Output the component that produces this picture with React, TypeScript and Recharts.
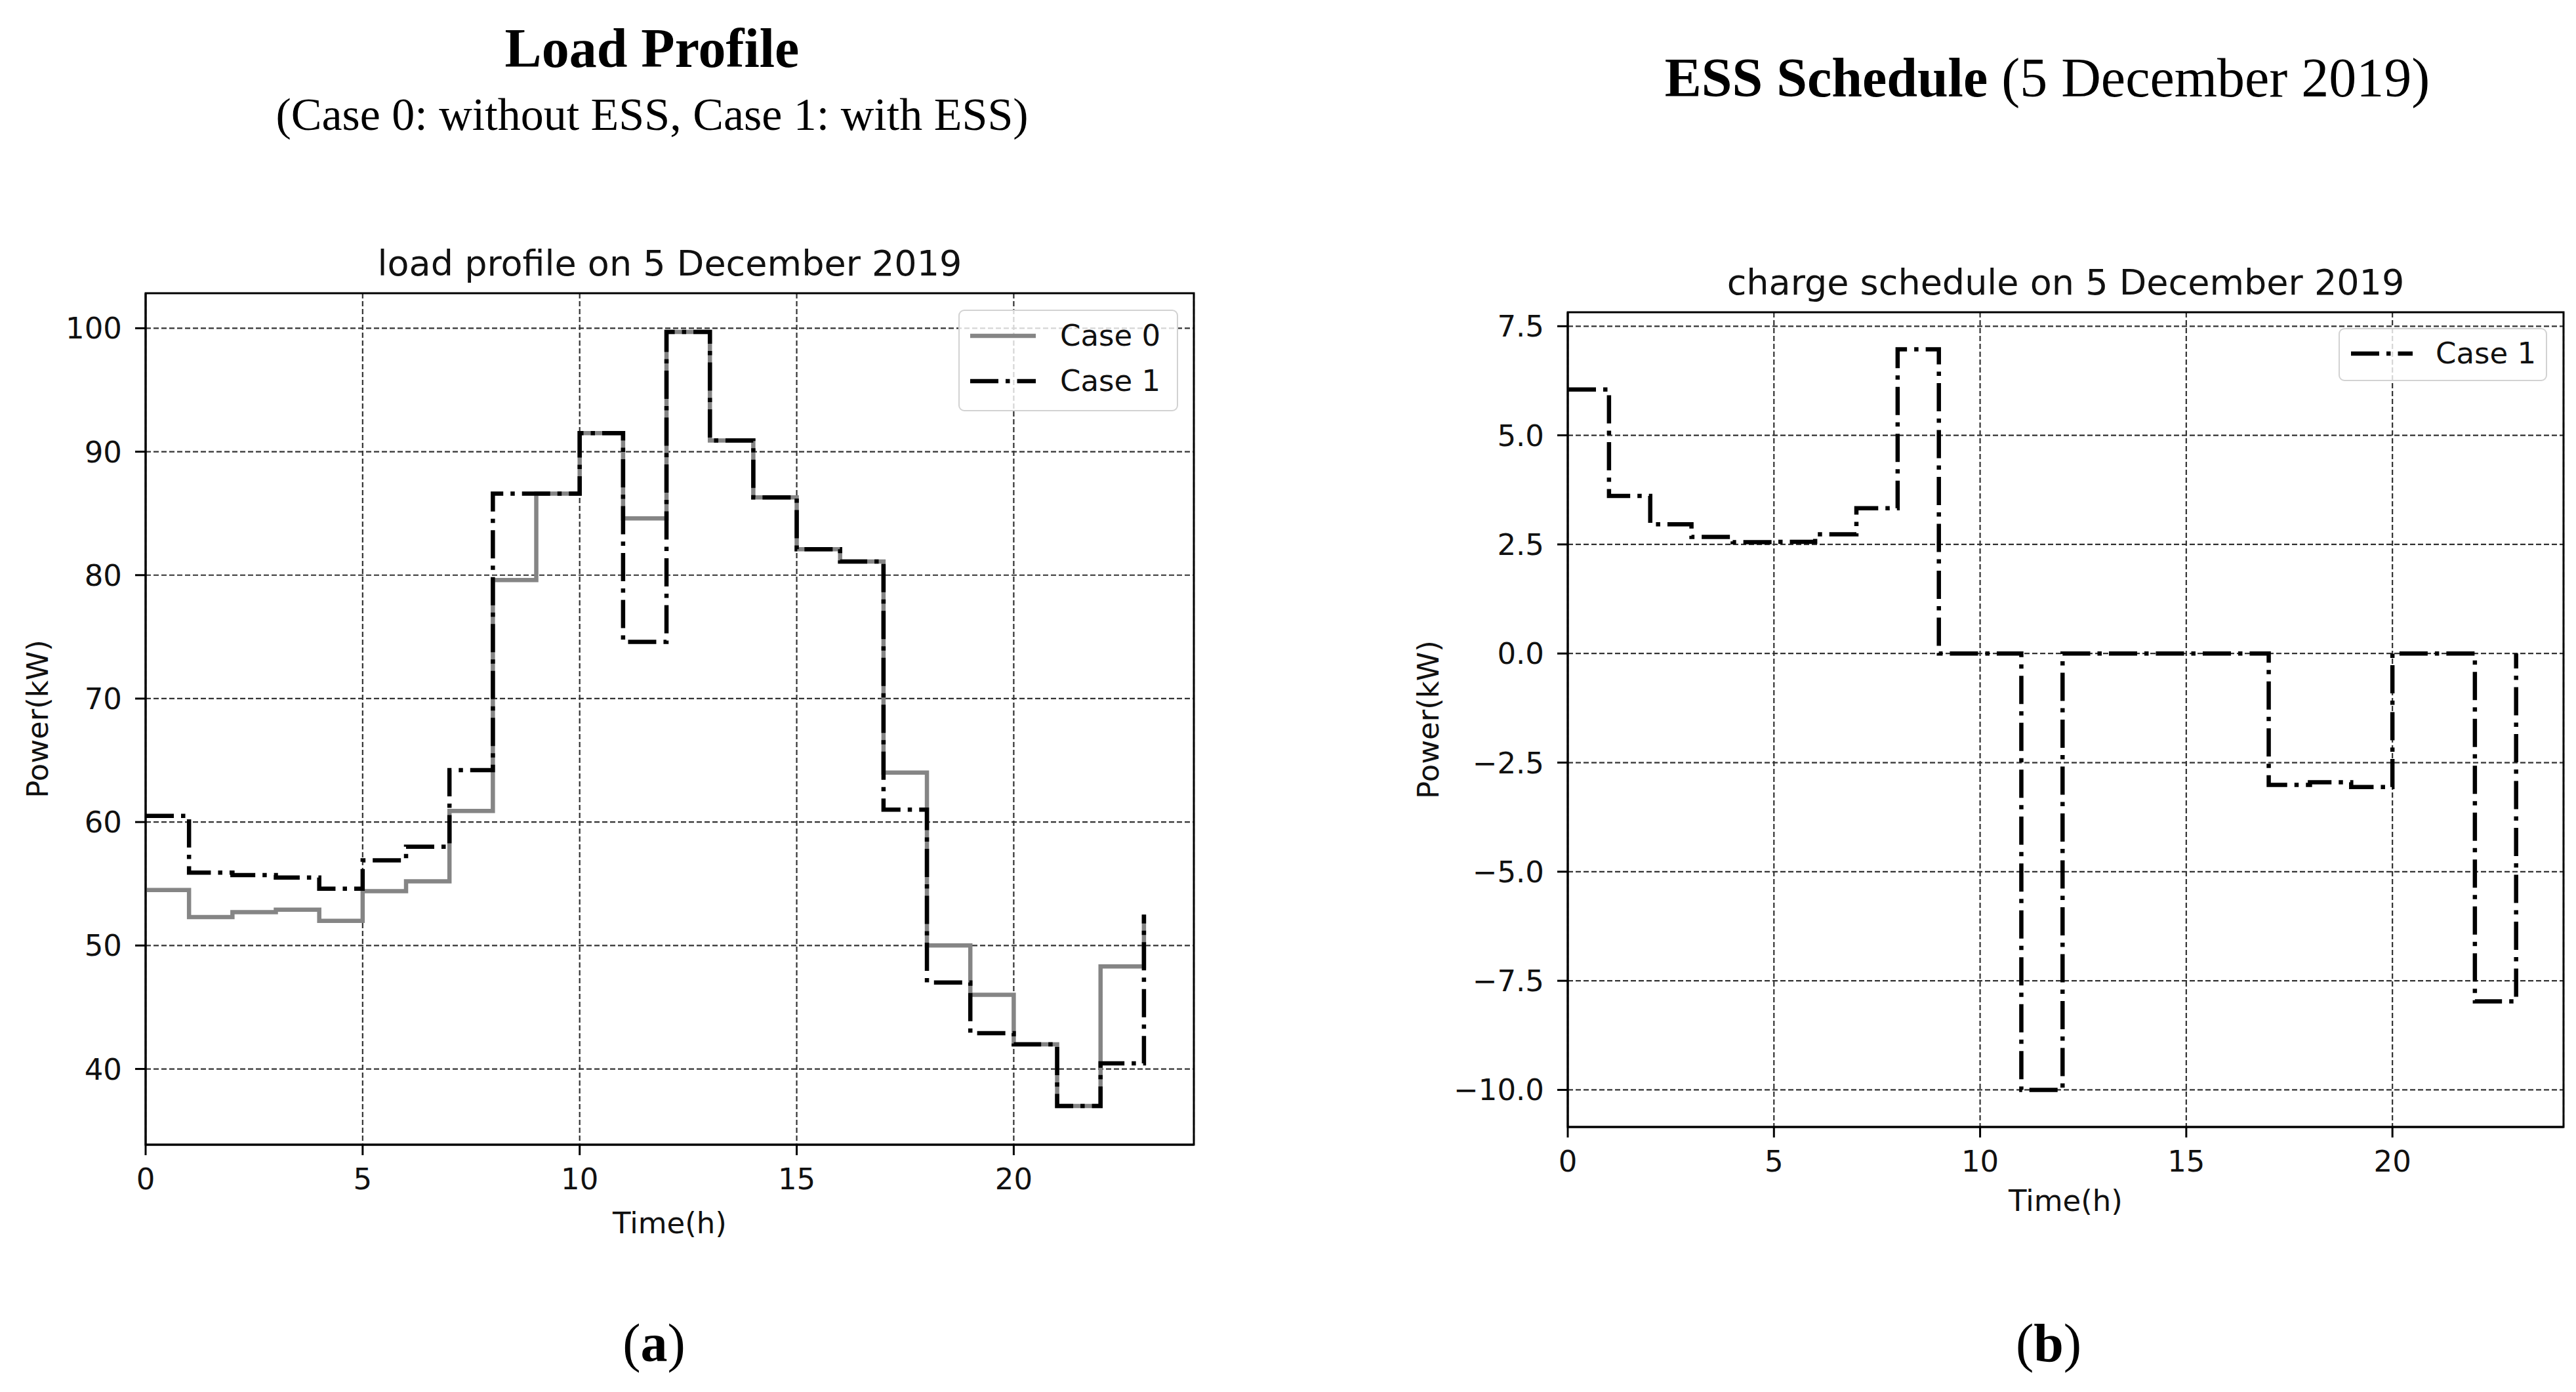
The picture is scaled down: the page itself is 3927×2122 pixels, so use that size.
import React from 'react';
import { LineChart, Line, XAxis, YAxis, CartesianGrid, ReferenceArea, Legend } from 'recharts';

// ---------- data ----------
const hours = [0, 1, 2, 3, 4, 5, 6, 7, 8, 9, 10, 11, 12, 13, 14, 15, 16, 17, 18, 19, 20, 21, 22, 23];
const case0Load = [54.5, 52.3, 52.7, 52.9, 52.0, 54.4, 55.2, 60.9, 79.6, 86.6, 91.5, 84.6, 99.7, 90.9, 86.3, 82.1, 81.1, 64.0, 50.0, 46.0, 42.0, 37.0, 48.3, 52.5];
const case1Load = [60.5, 55.9, 55.7, 55.5, 54.6, 56.9, 58.0, 64.2, 86.6, 86.6, 91.5, 74.6, 99.7, 90.9, 86.3, 82.1, 81.1, 61.0, 47.0, 42.9, 42.0, 37.0, 40.45, 52.5];
const essCharge = [6.05, 3.61, 2.96, 2.67, 2.55, 2.56, 2.73, 3.33, 6.97, 0, 0, -10, 0, 0, 0, 0, 0, -3.01, -2.95, -3.06, 0, 0, -7.97, 0];

const hourTicks = [0, 5, 10, 15, 20];
const loadTicks = [40, 50, 60, 70, 80, 90, 100];
const essTicks = [-10, -7.5, -5, -2.5, 0, 2.5, 5, 7.5];

const hourDomain = [0, 24.15];
const loadDomain = [33.865, 102.835];
const essDomain = [-10.85, 7.82];

const loadData = hours.map((h, i) => ({ hour: h, case0: case0Load[i], case1: case1Load[i] }));
const essData = hours.map((h, i) => ({ hour: h, case1: essCharge[i] }));

// ---------- styles ----------
const SANS = "'DejaVu Sans', sans-serif";
const SERIF = "'Liberation Serif', 'Times New Roman', serif";
const DASHDOT = '43 11 6.5 11';
const LINE_W = 6.5;
const GRAY = '#858585';

const seriesLoad = [
  { key: 'case0', name: 'Case 0', color: GRAY, dash: undefined as string | undefined },
  { key: 'case1', name: 'Case 1', color: '#000', dash: DASHDOT as string | undefined },
];
const seriesEss = [{ key: 'case1', name: 'Case 1', color: '#000', dash: DASHDOT as string | undefined }];

const tickStyle = { fontSize: 45, fontFamily: SANS, fill: '#111' };
const lineStyle = { stroke: '#000', strokeWidth: 3 };

type Series = { key: string; name: string; color: string; dash?: string };

const LegendBox = ({ items, lineLen, padLeft, gap, padTop, padBottom, width }: any) => (
  <div
    style={{
      boxSizing: 'border-box',
      width,
      border: '2.5px solid #d2d2d2',
      borderRadius: 9,
      background: 'rgba(255,255,255,0.8)',
      padding: `${padTop}px 0 ${padBottom}px ${padLeft}px`,
    }}
  >
    {items.map((it: Series) => (
      <div key={it.name} style={{ display: 'flex', alignItems: 'center', height: 69 }}>
        <svg width={lineLen} height={14} style={{ display: 'block' }}>
          <line x1={0} y1={7} x2={lineLen} y2={7} stroke={it.color} strokeWidth={LINE_W} strokeDasharray={it.dash} />
        </svg>
        <span style={{ marginLeft: gap, fontFamily: SANS, fontSize: 45, lineHeight: '45px', color: '#111' }}>{it.name}</span>
      </div>
    ))}
  </div>
);

type PanelProps = {
  left: number;
  width: number;
  height: number;
  margin: { top: number; right: number; bottom: number; left: number };
  yAxisWidth: number;
  data: any[];
  series: Series[];
  yDomain: number[];
  yTicks: number[];
  yFormat: (v: number) => string;
  title: string;
  yLabelOffset: number;
  xLabelOffset: number;
  legend: { left: number; top: number; width: number; lineLen: number; padLeft: number; gap: number; padTop: number; padBottom: number };
};

const Panel = (p: PanelProps) => {
  const xAxisHeight = 150;
  const plotL = p.margin.left + p.yAxisWidth;
  const plotR = p.width - p.margin.right;
  const plotT = p.margin.top;
  const plotB = p.height - p.margin.bottom - xAxisHeight;
  const cx = (plotL + plotR) / 2;
  const cy = (plotT + plotB) / 2;
  return (
    <div style={{ position: 'absolute', left: p.left, top: 0 }}>
      <LineChart width={p.width} height={p.height} data={p.data} margin={p.margin}>
        <CartesianGrid stroke="#333" strokeWidth={2.2} strokeDasharray="8 4" />
        <XAxis
          type="number"
          dataKey="hour"
          domain={hourDomain}
          ticks={hourTicks}
          allowDataOverflow
          interval={0}
          height={xAxisHeight}
          tickSize={16}
          tickMargin={20}
          tick={tickStyle}
          tickLine={lineStyle}
          axisLine={lineStyle}
          label={() => (
            <text x={cx} y={plotB + p.xLabelOffset} textAnchor="middle" fontSize={45} fontFamily={SANS} fill="#111">
              Time(h)
            </text>
          )}
        />
        <YAxis
          type="number"
          domain={p.yDomain}
          ticks={p.yTicks}
          allowDataOverflow
          interval={0}
          width={p.yAxisWidth}
          tickSize={16}
          tickMargin={20}
          tick={tickStyle}
          tickLine={lineStyle}
          axisLine={lineStyle}
          tickFormatter={p.yFormat}
          label={() => (
            <text
              x={plotL - p.yLabelOffset}
              y={cy}
              transform={`rotate(-90 ${plotL - p.yLabelOffset} ${cy})`}
              textAnchor="middle"
              fontSize={45}
              fontFamily={SANS}
              fill="#111"
            >
              Power(kW)
            </text>
          )}
        />
        {p.series.map((s) => (
          <Line
            key={s.key}
            type="stepAfter"
            dataKey={s.key}
            name={s.name}
            stroke={s.color}
            strokeWidth={LINE_W}
            strokeDasharray={s.dash}
            dot={false}
            activeDot={false}
            isAnimationActive={false}
          />
        ))}
        <ReferenceArea
          x1={hourDomain[0]}
          x2={hourDomain[1]}
          y1={p.yDomain[0]}
          y2={p.yDomain[1]}
          fill="none"
          fillOpacity={0}
          stroke="#000"
          strokeWidth={3}
          ifOverflow="visible"
          label={() => (
            <text x={cx} y={plotT - 27} textAnchor="middle" fontSize={54} fontFamily={SANS} fill="#111">
              {p.title}
            </text>
          )}
        />
        <Legend
          layout="horizontal"
          align="center"
          verticalAlign="middle"
          wrapperStyle={{ left: p.legend.left, top: p.legend.top, width: p.legend.width, height: 'auto', bottom: 'auto', right: 'auto' }}
          content={() => (
            <LegendBox
              items={p.series}
              width={p.legend.width}
              lineLen={p.legend.lineLen}
              padLeft={p.legend.padLeft}
              gap={p.legend.gap}
              padTop={p.legend.padTop}
              padBottom={p.legend.padBottom}
            />
          )}
        />
      </LineChart>
    </div>
  );
};

const fmtInt = (v: number) => String(v);
const fmtOne = (v: number) => v.toFixed(1).replace('-', '\u2212');

export default function App() {
  return (
    <div style={{ position: 'absolute', left: 0, top: 0, width: 3927, height: 2122, background: '#fff', overflow: 'hidden' }}>
      <svg width={3927} height={2122} style={{ position: 'absolute', left: 0, top: 0 }}>
        <text x={994} y={102} textAnchor="middle" fontFamily={SERIF} fontWeight="bold" fontSize={84} fill="#000">
          Load Profile
        </text>
        <text x={994} y={198} textAnchor="middle" fontFamily={SERIF} fontSize={70} fill="#000">
          (Case 0: without ESS, Case 1: with ESS)
        </text>
        <text x={3121} y={147} textAnchor="middle" fontFamily={SERIF} fontSize={84} fill="#000" style={{ whiteSpace: 'pre' }}>
          <tspan fontWeight="bold">ESS Schedule</tspan>
          <tspan> (5 December 2019)</tspan>
        </text>
        <text x={997} y={2075} textAnchor="middle" fontFamily={SERIF} fontSize={82} fill="#000">
          <tspan>(</tspan>
          <tspan fontWeight="bold">a</tspan>
          <tspan>)</tspan>
        </text>
        <text x={3123} y={2075} textAnchor="middle" fontFamily={SERIF} fontSize={82} fill="#000">
          <tspan>(</tspan>
          <tspan fontWeight="bold">b</tspan>
          <tspan>)</tspan>
        </text>
      </svg>
      <Panel
        left={0}
        width={1900}
        height={2122}
        margin={{ top: 447, right: 80, bottom: 227, left: 42 }}
        yAxisWidth={180}
        data={loadData}
        series={seriesLoad}
        yDomain={loadDomain}
        yTicks={loadTicks}
        yFormat={fmtInt}
        title="load profile on 5 December 2019"
        yLabelOffset={149}
        xLabelOffset={135}
        legend={{ left: 1461, top: 472, width: 335, lineLen: 100, padLeft: 16, gap: 37, padTop: 3, padBottom: 10 }}
      />
      <Panel
        left={1960}
        width={1967}
        height={2122}
        margin={{ top: 476, right: 19, bottom: 254, left: 230 }}
        yAxisWidth={200}
        data={essData}
        series={seriesEss}
        yDomain={essDomain}
        yTicks={essTicks}
        yFormat={fmtOne}
        title="charge schedule on 5 December 2019"
        yLabelOffset={197}
        xLabelOffset={128}
        legend={{ left: 1605, top: 500, width: 318, lineLen: 94, padLeft: 17, gap: 35, padTop: 2, padBottom: 6 }}
      />
    </div>
  );
}
